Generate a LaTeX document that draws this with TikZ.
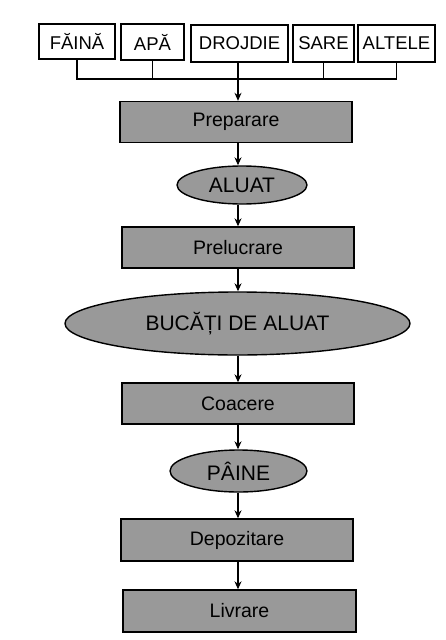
\documentclass[tikz,border=0pt]{standalone}
\usepackage{fontspec}
\setmainfont{Liberation Sans}
\usetikzlibrary{arrows.meta,positioning,shapes.geometric}
\tikzset{
	%Define standard arrow tip
	>={Stealth[length=8pt,width=7pt]},
	%Define style for the input boxes
	intrare/.style={
		rectangle,
		draw=black, line width=1.4pt,
		fill=white,
		font=\fontsize{18.5}{20}\selectfont,
		inner sep=0pt},
	%Define style for the process boxes
	proces/.style={
		rectangle,
		draw=black, line width=1.4pt,
		fill=black!40,
		minimum width=232pt,
		minimum height=41pt,
		font=\fontsize{19.5}{22}\selectfont,
		inner sep=0pt},
	%Define style for the product ellipses
	produs/.style={
		ellipse,
		draw=black, line width=1.4pt,
		fill=black!40,
		font=\fontsize{21}{24}\selectfont,
		inner sep=0pt},
	% Define arrow style
	pil/.style={
		->,
		line width=1.1pt}
}
\begin{document}
\begin{tikzpicture}[x=1pt, y=-1pt]
	\useasboundingbox[fill=white] (0,0) rectangle (446,640);
	
	\node[intrare, minimum width=76pt, minimum height=35pt] (faina) at (77,41.5) {FĂINĂ};
	\node[intrare, minimum width=63pt, minimum height=36pt] (apa) at (152.5,42) {APĂ};
	\node[intrare, minimum width=97pt, minimum height=37pt] (drojdie) at (239.5,43.5) {DROJDIE};
	\node[intrare, minimum width=61pt, minimum height=37pt] (sare) at (323.5,43.5) {SARE};
	\node[intrare, minimum width=77pt, minimum height=37pt] (altele) at (396.5,43.5) {ALTELE};
	\coordinate (bus) at (238,79);
	
	\node[proces] (prep) at (236,122) {Preparare};
	\node[produs, minimum width=130pt, minimum height=38pt] (aluat) at (242,185) {ALUAT};
	\node[proces] (prel) at (238,247.5) {Prelucrare};
	\node[produs, minimum width=345pt, minimum height=63pt] (bucati) at (237.5,323.5) {BUCĂȚI DE ALUAT};
	\node[proces] (coac) at (238,403.5) {Coacere};
	\node[produs, minimum width=137pt, minimum height=42pt] (paine) at (238.5,471) {PÂINE};
	\node[proces, minimum height=42pt] (depoz) at (237,540) {Depozitare};
	\node[proces, minimum width=233pt, minimum height=42pt] (livr) at (239.5,611) {Livrare};
	
	% collecting line of the inputs
	\draw[line width=1.1pt] (faina.south) |- (bus) -| (altele.south);
	\draw[line width=1.1pt] (apa.south) -- (apa.south |- bus);
	\draw[line width=1.1pt] (sare.south) -- (sare.south |- bus);
	\draw[line width=1.1pt] (drojdie.south -| bus) -- (bus);
	
	\draw[pil] (bus) -- (bus |- prep.north);
	\draw[pil] (bus |- prep.south) -- (bus |- aluat.north);
	\draw[pil] (bus |- aluat.south) -- (bus |- prel.north);
	\draw[pil] (bus |- prel.south) -- (bus |- bucati.north);
	\draw[pil] (bus |- bucati.south) -- (bus |- coac.north);
	\draw[pil] (bus |- coac.south) -- (bus |- paine.north);
	\draw[pil] (bus |- paine.south) -- (bus |- depoz.north);
	\draw[pil] (bus |- depoz.south) -- (bus |- livr.north);
	
\end{tikzpicture}
\end{document}
